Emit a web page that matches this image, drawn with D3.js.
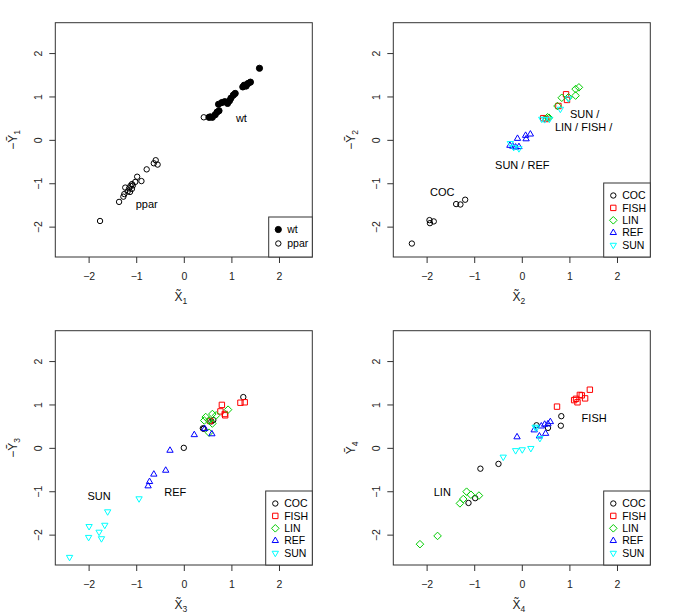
<!DOCTYPE html>
<html>
<head>
<meta charset="utf-8">
<title>Scatter panels</title>
<script src="https://cdn.jsdelivr.net/npm/d3@7/dist/d3.min.js"></script>
<style>
body {margin:0; background:#fff;}
svg {font-family:"Liberation Sans", Arial, sans-serif;}
</style>
</head>
<body>
<script>
// ---- data ----
var ticks = [-2, -1, 0, 1, 2];
var groups = ["COC", "FISH", "LIN", "REF", "SUN"];
var groupColors = ["#000000", "#FF0000", "#00CD00", "#0000FF", "#00FFFF"];

// panel 1
var wt = [[1.59,1.65],[1.40,1.33],[1.35,1.30],[1.31,1.24],[1.27,1.26],[1.24,1.22],[1.08,1.07],[1.04,1.03],[0.99,0.96],[0.96,0.90],[0.92,0.84],[0.86,0.88],[0.80,0.86],[0.73,0.82],[0.74,0.67],[0.70,0.64],[0.66,0.58],[0.60,0.52],[0.56,0.53],[0.53,0.52]];
var ppar = [[0.42,0.52],[-0.59,-0.47],[-0.63,-0.54],[-0.55,-0.57],[-0.78,-0.68],[-0.98,-0.85],[-0.89,-0.95],[-1.02,-0.97],[-1.09,-1.02],[-1.12,-1.06],[-1.07,-1.05],[-1.15,-1.12],[-1.09,-1.13],[-1.23,-1.10],[-1.18,-1.19],[-1.13,-1.20],[-1.25,-1.25],[-1.27,-1.31],[-1.36,-1.43],[-1.76,-1.87]];

// panel 2
var coc2 = [[-2.31,-2.39],[-1.94,-1.85],[-1.93,-1.92],[-1.85,-1.88],[-1.38,-1.48],[-1.29,-1.49],[-1.19,-1.38]];
var fish2 = [[0.93,1.05],[0.95,0.92],[0.77,0.78],[0.45,0.50],[0.51,0.48]];
var lin2 = [[1.20,1.21],[1.13,1.17],[1.13,1.02],[0.98,0.98],[0.84,0.97],[0.75,0.78],[0.54,0.52],[0.57,0.51]];
var ref2 = [[-0.25,-0.13],[-0.19,-0.15],[-0.09,0.03],[-0.06,-0.16],[0.08,0.10],[0.18,0.13],[0.09,0.02],[-0.13,-0.17]];
var sun2 = [[-0.24,-0.08],[-0.17,-0.17],[-0.06,-0.20],[0.42,0.48],[0.48,0.47],[0.58,0.48],[0.81,0.71],[0.98,0.95]];

// panel 3
var coc3 = [[1.25,1.17],[0.0,0.0],[0.40,0.45],[0.42,0.44],[0.58,0.61],[0.62,0.64]];
var fish3 = [[0.80,0.99],[0.77,0.84],[0.86,0.78],[0.87,0.75],[1.19,1.04],[1.28,1.05],[0.55,0.62]];
var lin3 = [[0.43,0.63],[0.46,0.71],[0.60,0.78],[0.68,0.75],[0.93,0.88],[0.53,0.35],[0.60,0.56],[0.53,0.63]];
var ref3 = [[0.59,0.32],[0.22,0.30],[-0.29,-0.06],[-0.38,-0.52],[-0.63,-0.61],[-0.72,-0.78],[-0.75,-0.88],[0.44,0.44]];
var sun3 = [[-0.94,-1.17],[-1.60,-1.47],[-1.66,-1.78],[-1.99,-1.81],[-1.78,-1.94],[-2.00,-2.06],[-1.73,-2.09],[-2.40,-2.52]];

// panel 4
var coc4 = [[-0.87,-0.48],[-0.49,-0.37],[-0.98,-1.16],[-1.12,-1.27],[0.31,0.52],[0.55,0.46],[0.83,0.73],[0.82,0.51]];
var fish4 = [[0.74,0.95],[1.10,1.10],[1.14,1.13],[1.17,1.05],[1.22,1.22],[1.26,1.21],[1.33,1.14],[1.43,1.34]];
var lin4 = [[-2.14,-2.22],[-1.77,-2.03],[-1.16,-1.01],[-1.07,-1.08],[-0.90,-1.10],[-1.23,-1.18],[-1.30,-1.28]];
var ref4 = [[-0.10,0.25],[0.26,0.41],[0.37,0.27],[0.48,0.54],[0.50,0.33],[0.55,0.55],[0.60,0.60],[0.41,0.50]];
var sun4 = [[-0.39,-0.21],[-0.13,-0.06],[0.01,-0.04],[0.19,-0.01],[0.28,0.48],[0.38,0.22],[0.31,0.46]];

// text labels inside panels [x, y, text]
var labels1 = [[1.21,0.50,"wt"],[-0.78,-1.48,"ppar"]];
var labels2 = [[1.32,0.59,"SUN /"],[1.30,0.29,"LIN / FISH /"],[0.01,-0.59,"SUN / REF"],[-1.67,-1.21,"COC"]];
var labels3 = [[-1.78,-1.12,"SUN"],[-0.18,-1.01,"REF"]];
var labels4 = [[1.52,0.69,"FISH"],[-1.67,-1.01,"LIN"]];

// ---- layout ----
var W = 676, H = 616;
var cellW = 338, cellH = 308;
var box = {left:55.3, right:312.3, top:22.7, bottom:257};
var lim = [-2.7, 2.7];

var svg = d3.select("body").append("svg")
    .attr("width", W).attr("height", H);

// R style plotting symbols
function symbolPath(pch, s) {
    if (pch == "square") return "M" + (-s) + "," + (-s) + "h" + (2*s) + "v" + (2*s) + "h" + (-2*s) + "Z";
    if (pch == "diamond") { var d = s*1.4; return "M0," + (-d) + "L" + d + ",0L0," + d + "L" + (-d) + ",0Z"; }
    if (pch == "up") { var t = s*1.35; return "M0," + (-t) + "L" + (t*0.87) + "," + (t*0.5) + "L" + (-t*0.87) + "," + (t*0.5) + "Z"; }
    if (pch == "down") { var t = s*1.35; return "M0," + t + "L" + (t*0.87) + "," + (-t*0.5) + "L" + (-t*0.87) + "," + (-t*0.5) + "Z"; }
    return null;
}
var groupPch = ["circle", "square", "diamond", "up", "down"];

function drawPoint(g, x, y, pch, col, filled) {
    if (pch == "circle") {
        g.append("circle").attr("cx", x).attr("cy", y)
            .attr("r", filled ? 3.1 : 2.7)
            .attr("fill", filled ? col : "none")
            .attr("stroke", col).attr("stroke-width", 1);
    } else {
        g.append("path").attr("transform", "translate(" + x + "," + y + ")")
            .attr("d", symbolPath(pch, 2.7))
            .attr("fill", "none").attr("stroke", col).attr("stroke-width", 1);
    }
}

function panel(col, row, idx, sets, labels, legendItems, minusY) {
    var g = svg.append("g")
        .attr("transform", "translate(" + (col*cellW) + "," + (row*cellH) + ")");
    var x = d3.scaleLinear().domain(lim).range([box.left, box.right]);
    var y = d3.scaleLinear().domain(lim).range([box.bottom, box.top]);

    // axes
    var fmt = d => d < 0 ? "\u2212" + Math.abs(d) : d;
    var xa = g.append("g").attr("transform", "translate(0," + box.bottom + ")")
        .call(d3.axisBottom(x).tickValues(ticks).tickSize(6).tickPadding(9.5).tickFormat(fmt));
    var ya = g.append("g").attr("transform", "translate(" + box.left + ",0)")
        .call(d3.axisLeft(y).tickValues(ticks).tickSize(6).tickPadding(8).tickFormat(fmt));
    [xa, ya].forEach(function (a) {
        a.select(".domain").remove();
        a.selectAll("line").attr("stroke", "#333");
        a.selectAll("text").attr("font-size", 10.5).attr("fill", "#222")
            .attr("font-family", "Liberation Sans, Arial, sans-serif");
    });
    ya.selectAll(".tick text")
        .attr("text-anchor", "middle")
        .attr("transform", "translate(-17,0) rotate(-90)")
        .attr("x", 0).attr("dy", "0.35em");

    // axis titles
    var xt = g.append("text").attr("x", (box.left + box.right)/2 - 3).attr("y", 301)
        .attr("text-anchor", "middle").attr("font-size", 12).attr("fill", "#222");
    xt.append("tspan").text("X\u0303");
    xt.append("tspan").attr("font-size", 8.5).attr("dy", 3).text(idx);

    var yt = g.append("text")
        .attr("transform", "translate(17," + ((box.top + box.bottom)/2) + ") rotate(-90)")
        .attr("text-anchor", "middle").attr("font-size", 12).attr("fill", "#222");
    yt.append("tspan").text((minusY ? "\u2212" : "") + "Y\u0303");
    yt.append("tspan").attr("font-size", 8.5).attr("dy", 3).text(idx);

    // points
    var pg = g.append("g");
    sets.forEach(function (s) {
        s.data.forEach(function (d) {
            drawPoint(pg, x(d[0]), y(d[1]), s.pch, s.col, s.filled);
        });
    });

    // labels
    labels.forEach(function (l) {
        g.append("text").attr("x", x(l[0])).attr("y", y(l[1]))
            .attr("dy", "0.35em").attr("text-anchor", "middle")
            .attr("font-size", 11).attr("fill", "#000").text(l[2]);
    });

    // box
    g.append("rect").attr("x", box.left).attr("y", box.top)
        .attr("width", box.right - box.left).attr("height", box.bottom - box.top)
        .attr("fill", "none").attr("stroke", "#333").attr("stroke-width", 1);

    // legend (bottom right)
    var step = legendItems.length > 2 ? 12.4 : 14;
    var lh = step * legendItems.length + 12;
    var lw = legendItems.length > 2 ? 46.6 : 43.6;
    var lg = g.append("g").attr("transform", "translate(" + (box.right - lw) + "," + (box.bottom - lh) + ")");
    lg.append("rect").attr("width", lw).attr("height", lh)
        .attr("fill", "#fff").attr("stroke", "#333").attr("stroke-width", 1);
    legendItems.forEach(function (it, i) {
        var cy = 12.5 + i * step;
        drawPoint(lg, 9.6, cy, it.pch, it.col, it.filled);
        lg.append("text").attr("x", 18.5).attr("y", cy).attr("dy", "0.35em")
            .attr("font-size", 10.5).attr("fill", "#000").text(it.name);
    });
}

function groupSets(list) {
    return list.map(function (d, i) {
        return {data: d, pch: groupPch[i], col: groupColors[i], filled: false};
    });
}
var groupLegend = groups.map(function (g, i) {
    return {name: g, pch: groupPch[i], col: groupColors[i], filled: false};
});

panel(0, 0, "1",
    [{data: ppar, pch: "circle", col: "#000", filled: false},
     {data: wt, pch: "circle", col: "#000", filled: true}],
    labels1,
    [{name: "wt", pch: "circle", col: "#000", filled: true},
     {name: "ppar", pch: "circle", col: "#000", filled: false}], true);
panel(1, 0, "2", groupSets([coc2, fish2, lin2, ref2, sun2]), labels2, groupLegend, true);
panel(0, 1, "3", groupSets([coc3, fish3, lin3, ref3, sun3]), labels3, groupLegend, true);
panel(1, 1, "4", groupSets([coc4, fish4, lin4, ref4, sun4]), labels4, groupLegend, false);
</script>
</body>
</html>
